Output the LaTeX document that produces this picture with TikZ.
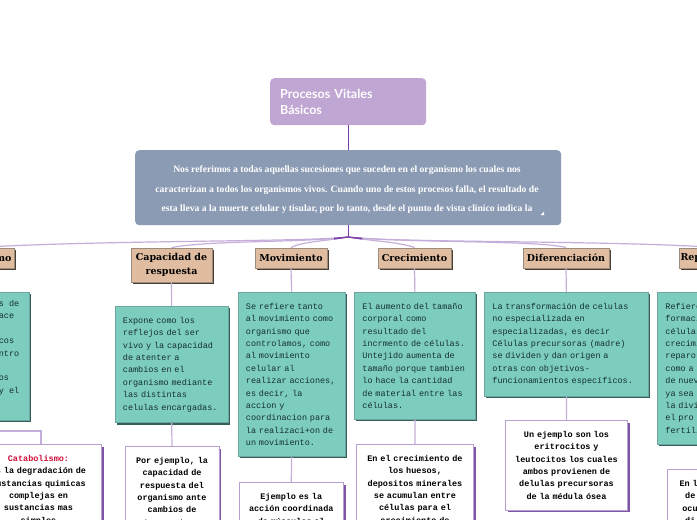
\documentclass[tikz,border=0pt]{standalone}
\usepackage{fontspec}
\usetikzlibrary{shadows}
\setmainfont{Liberation Serif}
\newfontfamily\monoface{Liberation Mono}
\newfontfamily\headface{DejaVu Serif}
\newfontfamily\titleface{Lato}
\definecolor{titlefill}{HTML}{C0A6D2}
\definecolor{descfill}{HTML}{8B9BB4}
\definecolor{headfill}{HTML}{E0BDA0}
\definecolor{headline}{HTML}{9C8C7C}
\definecolor{headshadow}{HTML}{4A3F35}
\definecolor{tealfill}{HTML}{7DCDBF}
\definecolor{tealline}{HTML}{6FA5A0}
\definecolor{tealshadow}{HTML}{35605A}
\definecolor{tealtext}{HTML}{14302B}
\definecolor{boxline}{HTML}{B79FD0}
\definecolor{boxshadow}{HTML}{7E55A8}
\definecolor{linklight}{HTML}{C5AEDA}
\definecolor{linkdark}{HTML}{7B3FA8}
\definecolor{catred}{HTML}{D0103A}
\tikzset{
  titlebox/.style={fill=titlefill,rounded corners=4pt,text=white,anchor=north west,minimum width=156pt,minimum height=47pt,inner xsep=10pt,inner ysep=0pt,text width=136pt,align=left,font=\titleface\bfseries\fontsize{12.5}{16}\selectfont},
  descbox/.style={fill=descfill,rounded corners=4pt,anchor=north west,minimum width=426pt,minimum height=75pt,inner sep=0pt},
  desctextstyle/.style={text=white,align=center,inner sep=0pt,font=\bfseries\fontsize{9.65}{19.6}\selectfont},
  headbox/.style={fill=headfill,draw=headline,line width=.8pt,text=black,align=center,inner sep=0pt,font=\headface\bfseries\fontsize{9.5}{14}\selectfont,
    drop shadow={shadow xshift=2pt,shadow yshift=-2pt,opacity=1,fill=headshadow}},
  tealbox/.style={fill=tealfill,draw=tealline,line width=.8pt,text=tealtext,anchor=north west,align=left,inner xsep=8pt,inner ysep=10.7pt,font=\monoface\fontsize{8.5}{12.4}\selectfont,
    drop shadow={shadow xshift=2pt,shadow yshift=-2pt,opacity=1,fill=tealshadow}},
  tealtextonly/.style={text=tealtext,anchor=north west,align=left,inner sep=0pt,font=\monoface\fontsize{8.5}{12.4}\selectfont},
  whitebox/.style={fill=white,draw=boxline,line width=1pt,text=black,anchor=north west,align=center,inner xsep=4pt,inner ysep=10.7pt,font=\monoface\bfseries\fontsize{8.5}{12.4}\selectfont,
    drop shadow={shadow xshift=2pt,shadow yshift=-2pt,opacity=1,fill=boxshadow}},
  plainlink/.style={draw=linklight,line width=1.2pt},
  rootlink/.style={draw=linkdark,line width=.9pt},
}
\newcommand{\branchpaths}[1]{%
  \draw[#1] (hub) .. controls (310,242) and (100,240) .. (hmet.north);
  \draw[#1] (hub) .. controls (300,243) and (210,240) .. (hcap.north);
  \draw[#1] (hub) .. controls (325,241) and (300,242) .. (hmov.north);
  \draw[#1] (hub) .. controls (371,241) and (400,242) .. (hcre.north);
  \draw[#1] (hub) .. controls (400,243) and (540,240) .. (hdif.north);
  \draw[#1] (hub) .. controls (400,243) and (600,240) .. (hrep.north);
}
\begin{document}
\begin{tikzpicture}[x=1pt,y=-1pt]
\fill[white] (0,0) rectangle (697,520);
\useasboundingbox (0,0) rectangle (697,520);

\node[titlebox] (title) at (270,78) {Procesos Vitales\\Básicos};
\node[descbox] (desc) at (135,150) {};
\node[desctextstyle] (desctext) at (347,190) {Nos referimos a todas aquellas sucesiones que suceden en el organismo los cuales nos\\caracterizan a todos los organismos vivos. Cuando uno de estos procesos falla, el resultado de\\esta lleva a la muerte celular y tisular, por lo tanto, desde el punto de vista clinico indica la};
\fill[white] (544,211.5) -- (544,215) -- (540.5,215) -- cycle;
\coordinate (hub) at (348,237);

% headings
\node[headbox,minimum width=74pt,minimum height=20pt] (hmet) at (-23,258) {Metabolismo};
\node[headbox,minimum width=81pt,minimum height=34pt] (hcap) at (171.5,265) {Capacidad de\\respuesta};
\node[headbox,minimum width=72pt,minimum height=20pt] (hmov) at (291,258) {Movimiento};
\node[headbox,minimum width=73pt,minimum height=20pt] (hcre) at (414.5,258) {Crecimiento};
\node[headbox,minimum width=86pt,minimum height=20pt] (hdif) at (566,258) {Diferenciación};
\node[headbox,minimum width=82pt,minimum height=20pt,text width=79pt,align=left] (hrep) at (720,258) {Rep};

% teal boxes
\node[tealbox,minimum width=60pt,minimum height=128pt] (tmet) at (-31,292) {};
\node[tealtextonly] (tmettext) at (-1.3,300.2) {s de\\ace\\~\\cos\\ntro\\~\\os\\y el};
\node[tealbox,text width=97.5pt] (tcap) at (114.5,306) {Expone como los\\reflejos del ser\\vivo y la capacidad\\de atenter a\\cambios en el\\organismo mediante\\las distintas\\celulas encargadas.};
\node[tealbox,text width=91.5pt] (tmov) at (237.5,292) {Se refiere tanto\\al movimiento como\\organismo que\\controlamos, como\\al movimiento\\celular al\\realizar acciones,\\es decir, la\\accion y\\coordinacion para\\la realizaci+on de\\un movimiento.};
\node[tealbox,text width=105pt] (tcre) at (354,292) {El aumento del tamaño\\corporal como\\resultado del\\incrmento de células.\\Untejido aumenta de\\tamaño porque tambien\\lo hace la cantidad\\de material entre las\\células.};
\node[tealbox,text width=148pt] (tdif) at (484,292) {La transformación de celulas\\no especializada en\\especializadas, es decir\\Células precursoras (madre)\\se dividen y dan origen a\\otras con objetivos-\\funcionamientos específicos.};
\node[tealbox,text width=110pt] (trep) at (657,292) {Refiere\\formaci\\células\\crecimi\\reparo\\como a\\de nuev\\ya sea\\la divi\\el pro\\fertili};

% white boxes
\node[whitebox,text width=118pt] (wcat) at (-25,444) {\textcolor{catred}{Catabolismo:}\\Es la degradación de\\sustancias quimicas\\complejas en\\sustancias mas\\simples};
\node[whitebox,text width=86pt] (wcap) at (124.5,446) {Por ejemplo, la\\capacidad de\\respuesta del\\organismo ante\\cambios de\\temperatura};
\node[whitebox,text width=96.5pt] (wmov) at (238.5,482) {Ejemplo es la\\acción coordinada\\de músculos al};
\node[whitebox,text width=109pt] (wcre) at (356,444) {En el crecimiento de\\los huesos,\\depositos minerales\\se acumulan entre\\células para el\\crecimiento de};
\node[whitebox,text width=114pt] (wdif) at (505,420) {Un ejemplo son los\\eritrocitos y\\leutocitos los cuales\\ambos provienen de\\delulas precursoras\\de la médula ósea};
\node[whitebox,text width=100pt,align=left,inner xsep=12pt] (wrep) at (667,469) {En l\\~~de\\~ocu\\~~di};

\coordinate (catjoin) at (41,444);
\coordinate (catknee) at (41,431);

% connectors
\draw[rootlink] (title.south -| hub) -- (desc.north -| hub);
\draw[rootlink] (desc.south -| hub) -- (hub);
\branchpaths{plainlink}
\begin{scope}
\clip (334,230) rectangle (362,245);
\branchpaths{rootlink}
\end{scope}
\draw[plainlink] (hcap.south) -- (tcap.north);
\draw[plainlink] (hmov.south) -- (tmov.north);
\draw[plainlink] (hcre.south) -- (tcre.north);
\draw[plainlink] (hdif.south) -- (tdif.north);
\draw[plainlink] (tcap.south) -- (wcap.north);
\draw[plainlink] (tmov.south) -- (wmov.north);
\draw[plainlink] (tcre.south) -- (wcre.north);
\draw[plainlink] (tdif.south) -- (wdif.north);
\draw[plainlink] (tmet.south) |- (catknee) -- (catjoin);
\end{tikzpicture}
\end{document}
